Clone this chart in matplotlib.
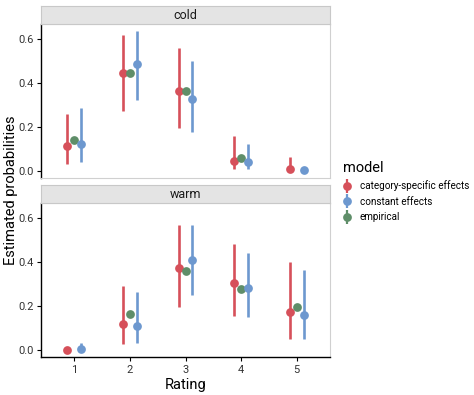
import numpy as np
import matplotlib
matplotlib.use("Agg")
import matplotlib.pyplot as plt
from matplotlib.lines import Line2D
from matplotlib.legend_handler import HandlerTuple

plt.rcParams['font.family'] = ['Roboto', 'DejaVu Sans']

ratings = [1, 2, 3, 4, 5]
panels = ["cold", "warm"]
models = ["category-specific effects", "constant effects", "empirical"]

# cold
cold_cat = [0.112, 0.445, 0.365, 0.047, 0.011]
cold_cat_lo = [0.030, 0.271, 0.196, 0.011, 0.000]
cold_cat_hi = [0.261, 0.619, 0.558, 0.158, 0.063]
cold_con = [0.124, 0.485, 0.329, 0.042, 0.005]
cold_con_lo = [0.039, 0.321, 0.176, 0.011, 0.000]
cold_con_hi = [0.287, 0.635, 0.500, 0.121, 0.016]
cold_emp = [0.140, 0.445, 0.362, 0.057, np.nan]

# warm
warm_cat = [0.000, 0.116, 0.371, 0.304, 0.171]
warm_cat_lo = [0.000, 0.026, 0.194, 0.153, 0.051]
warm_cat_hi = [0.002, 0.290, 0.568, 0.480, 0.400]
warm_con = [0.006, 0.111, 0.409, 0.283, 0.158]
warm_con_lo = [0.000, 0.033, 0.250, 0.149, 0.048]
warm_con_hi = [0.030, 0.262, 0.567, 0.441, 0.365]
warm_emp = [np.nan, 0.165, 0.359, 0.277, 0.194]

colors = {"category-specific effects": "#D6505A",
          "constant effects": "#6D98CF",
          "empirical": "#5F8E69"}
offsets = {"category-specific effects": -0.125, "constant effects": 0.125, "empirical": 0.0}

data = {
    "cold": {"category-specific effects": (cold_cat, cold_cat_lo, cold_cat_hi),
             "constant effects": (cold_con, cold_con_lo, cold_con_hi),
             "empirical": (cold_emp, None, None)},
    "warm": {"category-specific effects": (warm_cat, warm_cat_lo, warm_cat_hi),
             "constant effects": (warm_con, warm_con_lo, warm_con_hi),
             "empirical": (warm_emp, None, None)},
}

fig = plt.figure(figsize=(4.74, 3.95), dpi=100)
W, H = 474, 395

def box(x0, y0, x1, y1):
    return [x0 / W, 1 - y1 / H, (x1 - x0) / W, (y1 - y0) / H]

panel_boxes = [(41, 24, 330, 178), (41, 203, 330, 357)]
strip_boxes = [(41, 6, 330, 24), (41, 185, 330, 203)]

x = np.array(ratings, dtype=float)
for i, name in enumerate(panels):
    ax = fig.add_axes(box(*panel_boxes[i]))
    sax = fig.add_axes(box(*strip_boxes[i]))
    sax.set_facecolor("#E4E4E4")
    sax.set_xticks([])
    sax.set_yticks([])
    for s in sax.spines.values():
        s.set_color("#C8C8C8")
        s.set_linewidth(0.8)
    sax.text(0.5, 0.45, name, ha="center", va="center", fontsize=9, color="#1A1A1A",
             transform=sax.transAxes)

    for m in ["category-specific effects", "empirical", "constant effects"]:
        est, lo, hi = data[name][m]
        xs = x + offsets[m]
        if lo is not None:
            ax.vlines(xs, lo, hi, color=colors[m], lw=1.9, zorder=2)
        ax.plot(xs, est, "o", color=colors[m], ms=6.3, mew=0, zorder=3)

    ax.set_xlim(0.4, 5.6)
    ax.set_ylim(-0.032, 0.668)
    ax.set_yticks([0.0, 0.2, 0.4, 0.6])
    ax.set_yticklabels(["0.0", "0.2", "0.4", "0.6"])
    ax.set_xticks(ratings)
    for s in ["top", "right", "bottom"]:
        ax.spines[s].set_color("#D0D0D0")
        ax.spines[s].set_linewidth(0.8)
    ax.spines["left"].set_color("black")
    ax.spines["left"].set_linewidth(1.0)
    ax.tick_params(axis="y", length=3, width=0.8, color="black", labelsize=8, labelcolor="#333333", pad=2)
    if i == 0:
        ax.tick_params(axis="x", length=0, labelbottom=False)
    else:
        ax.spines["bottom"].set_color("black")
        ax.spines["bottom"].set_linewidth(1.0)
        ax.tick_params(axis="x", length=3, width=0.8, color="black", labelsize=8, labelcolor="#333333", pad=3)
        ax.set_xlabel("Rating", fontsize=10.5, labelpad=2)

fig.text(11 / W, 1 - 190 / H, "Estimated probabilities", rotation=90, ha="center", va="center", fontsize=10.5)

handles = []
for m in models:
    c = colors[m]
    handles.append((Line2D([], [], marker="|", ms=10, mew=1.6, color=c, ls=""),
                    Line2D([], [], marker="o", ms=6.3, mew=0, color=c, ls="")))
leg = fig.legend(handles, models, title="model", loc="upper left",
                 bbox_to_anchor=(339 / W, 1 - 157 / H), frameon=False,
                 handler_map={tuple: HandlerTuple(ndivide=1)},
                 fontsize=7.1, title_fontsize=10.5, handlelength=0.9, handletextpad=0.8,
                 labelspacing=0.55, borderaxespad=0)
leg._legend_box.align = "left"

fig.savefig("out.png", dpi=100)
